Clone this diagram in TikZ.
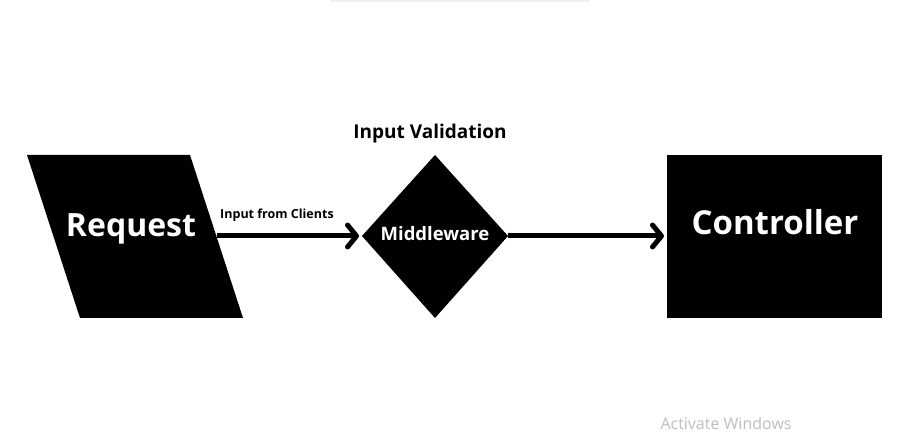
\documentclass[tikz,border=0pt]{standalone}
\usepackage{fontspec}
\setmainfont{Open Sans}
\usetikzlibrary{arrows.meta}
\begin{document}
\begin{tikzpicture}[x=1pt,y=-1pt,
  blk/.style={fill=black},
  conn/.style={line width=5pt,-{Straight Barb[length=9pt,width=22pt,line cap=round,line join=round]}},
  lbl/.style={text=white,font=\bfseries}]
\useasboundingbox[fill=white] (0,0) rectangle (898,435);
\fill[black!6] (330,0) rectangle (590,2);
\fill[blk] (27,155) -- (190,155) -- (243,318) -- (80,318) -- cycle;
\node[lbl,font=\fontsize{32}{36}\bfseries\selectfont] (req) at (131,229) {Request};
\fill[blk] (435,155) -- (508,236) -- (435,318) -- (362,236) -- cycle;
\coordinate (mwl) at (362,236);
\coordinate (mwr) at (508,236);
\node[lbl,font=\fontsize{18.5}{22}\bfseries\selectfont] (mw) at (435,234) {Middleware};
\fill[blk] (667,155) rectangle (882,318);
\coordinate (ctl) at (667,236);
\node[lbl,font=\fontsize{33}{36}\bfseries\selectfont] (ctrl) at (775,222) {Controller};
\node[font=\fontsize{19}{22}\bfseries\selectfont] (iv) at (430,134) {Input Validation};
\node[font=\fontsize{12.5}{14}\bfseries\selectfont] (ifc) at (277,215) {Input from Clients};
\coordinate (rq) at (217,236);
\draw[conn] (rq) -- ([xshift=-3pt]mwl);
\draw[conn] (mwr) -- ([xshift=-3pt]ctl);
\node[text=black!25,font=\fontsize{16}{20}\selectfont,anchor=west] (aw) at (657,424) {Activate Windows};
\end{tikzpicture}
\end{document}
